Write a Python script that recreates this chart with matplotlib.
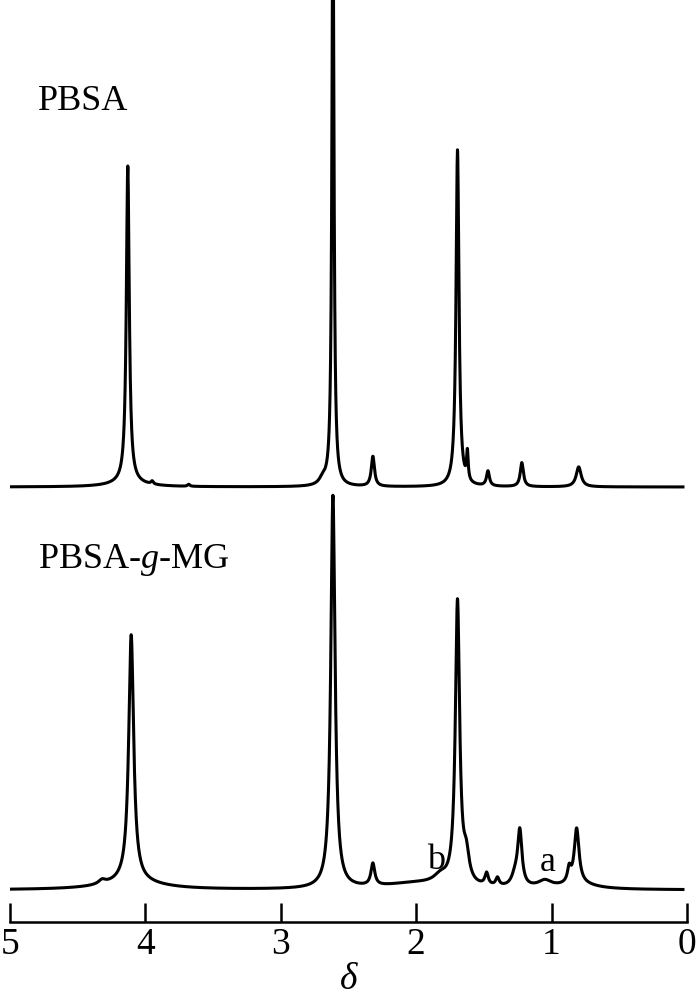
import numpy as np
import matplotlib
matplotlib.use("Agg")
import matplotlib.pyplot as plt

plt.rcParams["font.family"] = ["Liberation Serif", "DejaVu Serif"]
plt.rcParams["mathtext.fontset"] = "custom"
plt.rcParams["mathtext.rm"] = "Liberation Serif"
plt.rcParams["mathtext.it"] = "Liberation Serif:italic"

# peak tables: shift (ppm), height (arb.), half width (ppm)
pbsa_shift = [4.13, 4.13, 3.95, 3.68, 2.69, 2.615, 2.32, 1.695, 1.622, 1.47, 1.22, 0.80]
pbsa_height = [317, 4, 3, 2, 6, 600, 30, 337, 28, 15, 24, 20]
pbsa_width = [0.013, 0.15, 0.01, 0.01, 0.03, 0.009, 0.014, 0.013, 0.007, 0.013, 0.014, 0.022]

graft_shift = [4.105, 4.10, 4.32, 2.615, 2.32, 2.00, 1.82, 1.695, 1.63, 1.48, 1.40,
               1.235, 1.27, 1.05, 0.87, 0.815, 0.80]
graft_height = [247, 8, 4, 393, 22, 6, 8, 283, 25, 12, 8, 55, 10, 7, 14, 55, 5]
graft_width = [0.022, 0.25, 0.03, 0.019, 0.017, 0.3, 0.06, 0.019, 0.025, 0.015, 0.015,
               0.019, 0.03, 0.06, 0.015, 0.021, 0.15]

spectra = [("PBSA", pbsa_shift, pbsa_height, pbsa_width, 435),
           ("PBSA-$g$-MG", graft_shift, graft_height, graft_width, 32)]
label_y = [0.890, 0.432]


def lorentz_sum(x, shift, height, width):
    y = np.zeros_like(x)
    for c, h, w in zip(shift, height, width):
        y += h / (1 + ((x - c) / w) ** 2)
    return y


ppm = np.linspace(5.0, 0.03, 4000)

fig = plt.figure(figsize=(7, 10), dpi=100)
ax = fig.add_axes([10 / 700, 0.078, 677 / 700, 0.922])

for (name, s, h, w, off), ly in zip(spectra, label_y):
    ax.plot(ppm, off + lorentz_sum(ppm, s, h, w), color="black", lw=2.2)
    fig.text(0.054, ly, name, fontsize=26, va="baseline", ha="left")

ax.text(1.85, 53, "b", fontsize=26, ha="center", va="baseline")
ax.text(1.03, 51, "a", fontsize=26, ha="center", va="baseline")

ax.set_xlim(5, 0)
ax.set_ylim(0, 922)
ax.set_xticks([5, 4, 3, 2, 1, 0])
ax.set_yticks([])
for side in ["top", "left", "right"]:
    ax.spines[side].set_visible(False)
ax.spines["bottom"].set_linewidth(1.8)
ax.tick_params(axis="x", direction="in", length=14, width=1.8, labelsize=27, pad=4)
ax.set_xlabel(r"$\delta$", fontsize=27, labelpad=0)

fig.savefig("out.png", dpi=100)
